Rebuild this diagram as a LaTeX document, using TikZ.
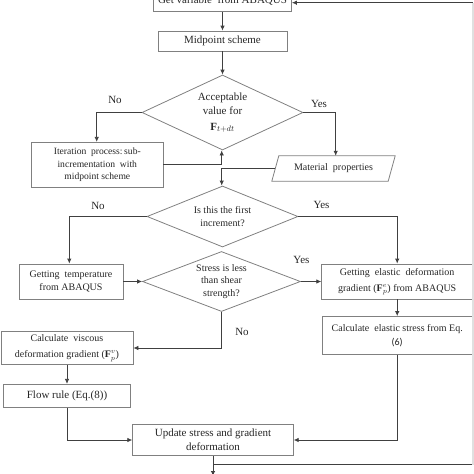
\documentclass[tikz,border=0pt]{standalone}
\usepackage{fontspec}
\setmainfont{Liberation Serif}
\newfontfamily\eqsans{Carlito}
\usetikzlibrary{shapes.geometric,arrows.meta,calc}
\begin{document}
\begin{tikzpicture}[x=1pt,y=-1pt,
  box/.style={draw=black!50, line width=0.8pt, rectangle, inner sep=0pt, align=center, text=black!85},
  dia/.style={draw=black!50, line width=0.8pt, diamond, inner sep=0pt},
  conn/.style={draw=black!75, line width=0.8pt},
  arr/.style={conn, -{Latex[length=5pt,width=4.5pt]}},
  lbl/.style={text=black!85, font=\fontsize{11}{13}\selectfont, inner sep=0pt},
  fa/.style={font=\fontsize{10}{12.5}\selectfont},
  fb/.style={font=\fontsize{11}{14}\selectfont},
  fc/.style={font=\fontsize{9.6}{12.6}\selectfont},
  dtext/.style={text=black!85, align=center, inner sep=0pt},
]
\useasboundingbox (0,0) rectangle (474,474);
\clip (0,0) rectangle (474,474);

% boxes
\node[box, fb, minimum width=138, minimum height=21.4] (get) at (222.5,1) {Get variable\ \ from ABAQUS};
\node[box, fb, minimum width=129, minimum height=20] (mid) at (222.5,41) {Midpoint scheme};
\node[dia, minimum width=161, minimum height=75,
  label={[dtext, fb]center:{Acceptable\\value for\\[2pt]$\mathbf{F}_{t+dt}$}}] (d1) at (222.5,112.5) {};
\node[box, fc, minimum width=131.3, minimum height=45] (iter) at (97.3,164.8)
  {Iteration\ \ process:\,sub-\\incrementation\ \ with\\midpoint scheme};
\node[minimum width=123, minimum height=25, inner sep=0pt, fa, text=black!85] (mat) at (333.5,168.5) {Material\ \ properties};
\draw[draw=black!50, line width=0.8pt] ($(mat.north west)+(7,0)$) -- (mat.north east)
  -- ($(mat.south east)+(-7,0)$) -- (mat.south west) -- cycle;
\node[dia, minimum width=151, minimum height=61,
  label={[dtext, fa]center:{Is this the first\\increment?}}] (d2) at (222.5,216.5) {};
\node[box, fa, minimum width=104, minimum height=35] (temp) at (71,281.5) {Getting\ \ temperature\\from ABAQUS};
\node[dia, minimum width=158, minimum height=60,
  label={[dtext, fa]center:{Stress is less\\than shear\\strength?}}] (d3) at (221.5,281.5) {};
\node[box, fa, minimum width=151, minimum height=35] (elas) at (397.2,281.5)
  {Getting\ \ elastic\ \ deformation\\[3.5pt]gradient ($\mathbf{F}_p^e$) from ABAQUS};
\node[box, fa, minimum width=150, minimum height=38] (calc) at (397.2,335.5)
  {Calculate\ \ elastic\ stress from Eq.\\[2pt]{\eqsans (6)}};
\node[box, fa, minimum width=132, minimum height=33] (visc) at (67,348)
  {Calculate\ \ viscous\\[3.5pt]deformation gradient ($\mathbf{F}_p^v$)};
\node[box, fb, minimum width=127.4, minimum height=23.4] (flow) at (67,396) {Flow rule (Eq.(8))};
\node[box, fb, minimum width=160.6, minimum height=31.4] (upd) at (213,440)
  {Update stress and gradient\\deformation};

% labels
\node[lbl] (no1) at (115,100) {No};
\node[lbl] (yes1) at (319,104) {Yes};
\node[lbl] (no2) at (98,205.5) {No};
\node[lbl] (yes2) at (321.5,205) {Yes};
\node[lbl] (yes3) at (301.5,260) {Yes};
\node[lbl] (no3) at (242,331.5) {No};

% connectors
\draw[arr] (get.south) -- (mid.north);
\draw[arr] (mid.south) -- (d1.north);
\draw[arr] (d1.west) -| ($(iter.north)+(-0.6,0)$);
\draw[arr] (d1.east) -| ($(mat.north)+(2.2,0)$);
\draw[arr] (iter.east) -| ($(d1.south)+(-0.8,0)$);
\draw[arr] ($(mat.west)+(3.5,0)$) -| ($(d2.north)+(-0.8,0)$);
\draw[arr] (d2.west) -| ($(temp.north)+(-1.7,0)$);
\draw[arr] (d2.east) -| (elas.north);
\draw[arr] (temp.east) -- (d3.west);
\draw[arr] (d3.east) -- (elas.west);
\draw[arr] (elas.south) -- (calc.north);
\draw[arr] (d3.south) |- (visc.east);
\draw[arr] (visc.south) -- (flow.north);
\draw[arr] (flow.south) |- (upd.west);
\draw[arr] (calc.south) |- (upd.east);
\coordinate (endpt) at (213,476);
\draw[arr] (upd.south) -- (endpt);
\coordinate (j) at (213,464.5);
\coordinate (r1) at (473,464.5);
\coordinate (r2) at (473,2.7);
\draw[conn] (j) -- (r1);
\draw[draw=black!12, line width=1.6pt] (r1) -- (r2);
\draw[arr] (r2) -- (get.east |- r2);
\end{tikzpicture}
\end{document}
